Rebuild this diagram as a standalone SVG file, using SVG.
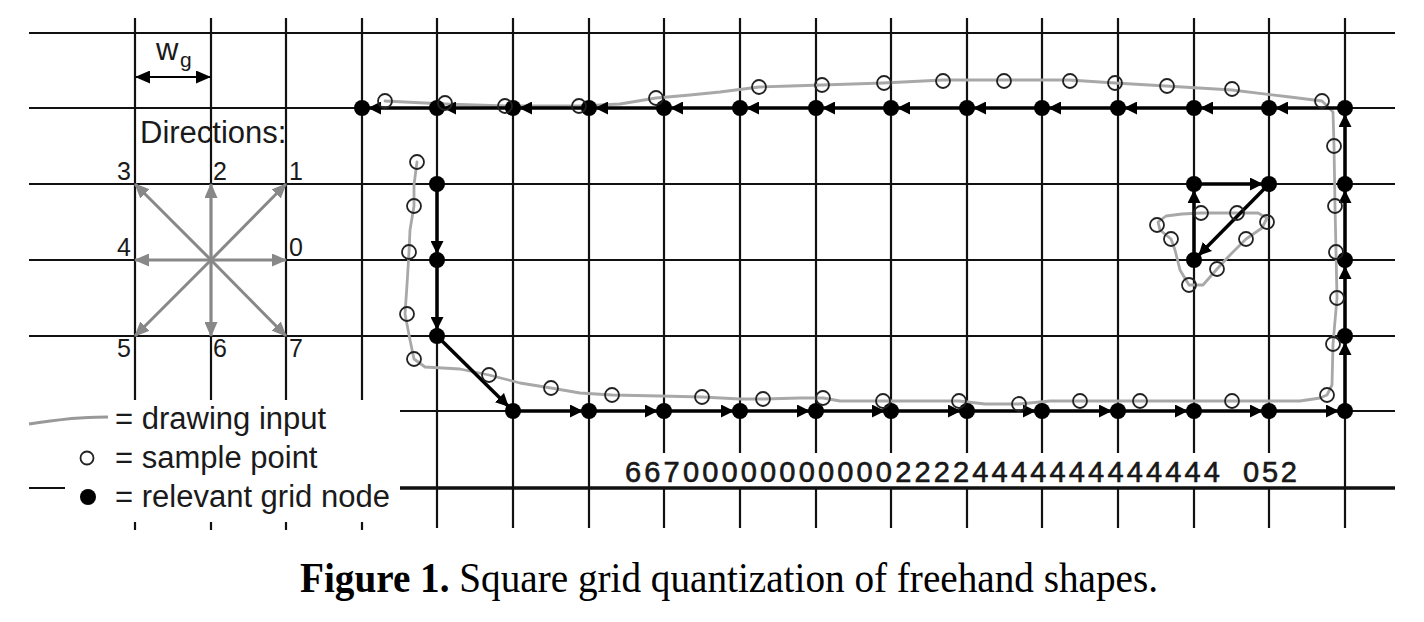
<svg xmlns="http://www.w3.org/2000/svg" width="1424" height="622" viewBox="0 0 1424 622">
<style>
.grid{stroke:#111;stroke-width:2.2;fill:none}
.gridb{stroke:#111;stroke-width:3.5;fill:none}
.seg{stroke:#000;stroke-width:3.5;fill:none;marker-end:url(#ah)}
.node{fill:#000}
.ink{stroke:#a8a8a8;stroke-width:2.8;fill:none;stroke-linejoin:round;stroke-linecap:round}
.samp{fill:none;stroke:#222;stroke-width:1.8}
.dir{stroke:#888;stroke-width:3;fill:none;marker-end:url(#ag)}
.lbl{font-family:"Liberation Sans",Arial,sans-serif;fill:#1a1a1a}
.cap{font-family:"Liberation Serif","Times New Roman",serif;fill:#000}
</style>
<defs>
<marker id="ah" markerUnits="userSpaceOnUse" markerWidth="13" markerHeight="13" refX="12" refY="6.5" orient="auto"><path d="M0,0 L13,6.5 L0,13 z" fill="#000"/></marker>
<marker id="ag" markerUnits="userSpaceOnUse" markerWidth="15" markerHeight="13" refX="14" refY="6.5" orient="auto"><path d="M0,0 L15,6.5 L0,13 z" fill="#888"/></marker>
<marker id="ak" markerUnits="userSpaceOnUse" markerWidth="15" markerHeight="13" refX="14" refY="6.5" orient="auto"><path d="M0,0 L15,6.5 L0,13 z" fill="#000"/></marker>
</defs>
<rect width="1424" height="622" fill="#fff"/>
<g id="grid">
<path class="grid" d="M29,33H1395M29,108H1395M29,184H1395M29,260H1395M29,336H1395M400,411H1395M29,488H65"/>
<path class="gridb" d="M400,488H1395"/>
<path class="grid" d="M135,18V400M211,18V400M286,18V400M362,18V400M135,522V530M211,522V530M286,522V530M362,522V530"/>
<path class="grid" d="M437,18V528M513,18V528M589,18V528M1345,18V528"/>
<path class="grid" d="M664,18V453M740,18V453M816,18V453M891,18V453M967,18V453M1042,18V453M1118,18V453M1194,18V453M1269,18V453"/>
<path class="grid" d="M664,487V528M740,487V528M816,487V528M891,487V528M967,487V528M1042,487V528M1118,487V528M1194,487V528M1269,487V528"/>
</g>
<g id="directions">
<line class="dir" x1="211" y1="260" x2="286" y2="260"/>
<line class="dir" x1="211" y1="260" x2="286" y2="184"/>
<line class="dir" x1="211" y1="260" x2="211" y2="184"/>
<line class="dir" x1="211" y1="260" x2="135" y2="184"/>
<line class="dir" x1="211" y1="260" x2="135" y2="260"/>
<line class="dir" x1="211" y1="260" x2="135" y2="336"/>
<line class="dir" x1="211" y1="260" x2="211" y2="336"/>
<line class="dir" x1="211" y1="260" x2="286" y2="336"/>
<text class="lbl" x="140" y="143" font-size="31">Directions:</text>
<text class="lbl" x="117" y="180" font-size="25">3</text>
<text class="lbl" x="213" y="180" font-size="25">2</text>
<text class="lbl" x="289" y="180" font-size="25">1</text>
<text class="lbl" x="117" y="256" font-size="25">4</text>
<text class="lbl" x="289" y="256" font-size="25">0</text>
<text class="lbl" x="117" y="357" font-size="25">5</text>
<text class="lbl" x="213" y="357" font-size="25">6</text>
<text class="lbl" x="289" y="357" font-size="25">7</text>
</g>
<g id="wg">
<line x1="173" y1="77" x2="136" y2="77" stroke="#000" stroke-width="2" marker-end="url(#ak)"/>
<line x1="173" y1="77" x2="210" y2="77" stroke="#000" stroke-width="2" marker-end="url(#ak)"/>
<text class="lbl" x="156" y="60" font-size="31">w</text>
<text class="lbl" x="180" y="67" font-size="21">g</text>
</g>
<g id="drawing-input">
<path class="ink" d="M417,162 L414,185 L414,206 L410,230 L409,252 L407,285 L405,314 L410,340 L414,359 L425,367 L460,369 L489,375 L520,383 L551,388 L580,393 L612,395 L660,396 L702,397 L740,399 L763,399 L800,398 L823,398 L840,401 L883,401 L920,401 L959,401 L985,404 L1019,404 L1050,401 L1080,401 L1140,401 L1190,401 L1232,401 L1300,401 L1320,398 L1327,395 L1332,385 L1333,344 L1337,298 L1336,252 L1335,206 L1334,146 L1333,112 L1322,101 L1290,97 L1232,90 L1166,86 L1115,83 L1069,80 L1004,80 L943,80 L883,83 L822,85 L790,86 L759,87 L720,92 L690,95 L656,98 L620,104 L580,106 L506,106 L445,104 L385,101"/>
<path class="ink" d="M1189,285 L1180,270 L1175,250 L1171,239 L1160,230 L1158,222 L1166,216 L1182,214 L1201,213 L1237,213 L1258,213 L1267,218 L1262,228 L1246,239 L1230,255 L1217,269 L1203,285 L1189,285"/>
</g>
<g id="connectors">
<line class="seg" x1="437" y1="108" x2="369" y2="108"/>
<line class="seg" x1="513" y1="108" x2="444" y2="108"/>
<line class="seg" x1="589" y1="108" x2="520" y2="108"/>
<line class="seg" x1="664" y1="108" x2="596" y2="108"/>
<line class="seg" x1="740" y1="108" x2="671" y2="108"/>
<line class="seg" x1="816" y1="108" x2="747" y2="108"/>
<line class="seg" x1="891" y1="108" x2="823" y2="108"/>
<line class="seg" x1="967" y1="108" x2="898" y2="108"/>
<line class="seg" x1="1042" y1="108" x2="974" y2="108"/>
<line class="seg" x1="1118" y1="108" x2="1049" y2="108"/>
<line class="seg" x1="1194" y1="108" x2="1125" y2="108"/>
<line class="seg" x1="1269" y1="108" x2="1201" y2="108"/>
<line class="seg" x1="1345" y1="108" x2="1276" y2="108"/>
<line class="seg" x1="1345" y1="411" x2="1345" y2="343"/>
<line class="seg" x1="1345" y1="336" x2="1345" y2="267"/>
<line class="seg" x1="1345" y1="260" x2="1345" y2="191"/>
<line class="seg" x1="1345" y1="184" x2="1345" y2="115"/>
<line class="seg" x1="513" y1="411" x2="582" y2="411"/>
<line class="seg" x1="589" y1="411" x2="657" y2="411"/>
<line class="seg" x1="664" y1="411" x2="733" y2="411"/>
<line class="seg" x1="740" y1="411" x2="809" y2="411"/>
<line class="seg" x1="816" y1="411" x2="884" y2="411"/>
<line class="seg" x1="891" y1="411" x2="960" y2="411"/>
<line class="seg" x1="967" y1="411" x2="1035" y2="411"/>
<line class="seg" x1="1042" y1="411" x2="1111" y2="411"/>
<line class="seg" x1="1118" y1="411" x2="1187" y2="411"/>
<line class="seg" x1="1194" y1="411" x2="1262" y2="411"/>
<line class="seg" x1="1269" y1="411" x2="1338" y2="411"/>
<line class="seg" x1="437" y1="184" x2="437" y2="253"/>
<line class="seg" x1="437" y1="260" x2="437" y2="329"/>
<line class="seg" x1="437" y1="336" x2="508" y2="406"/>
<line class="seg" x1="1194" y1="184" x2="1262" y2="184"/>
<line class="seg" x1="1269" y1="184" x2="1199" y2="255"/>
<line class="seg" x1="1194" y1="260" x2="1194" y2="191"/>
</g>
<g id="nodes">
<circle class="node" cx="437" cy="184" r="8"/><circle class="node" cx="437" cy="260" r="8"/><circle class="node" cx="437" cy="336" r="8"/>
<circle class="node" cx="513" cy="411" r="8"/><circle class="node" cx="589" cy="411" r="8"/><circle class="node" cx="664" cy="411" r="8"/><circle class="node" cx="740" cy="411" r="8"/><circle class="node" cx="816" cy="411" r="8"/><circle class="node" cx="891" cy="411" r="8"/><circle class="node" cx="967" cy="411" r="8"/><circle class="node" cx="1042" cy="411" r="8"/><circle class="node" cx="1118" cy="411" r="8"/><circle class="node" cx="1194" cy="411" r="8"/><circle class="node" cx="1269" cy="411" r="8"/><circle class="node" cx="1345" cy="411" r="8"/>
<circle class="node" cx="1345" cy="336" r="8"/><circle class="node" cx="1345" cy="260" r="8"/><circle class="node" cx="1345" cy="184" r="8"/><circle class="node" cx="1345" cy="108" r="8"/>
<circle class="node" cx="362" cy="108" r="8"/><circle class="node" cx="437" cy="108" r="8"/><circle class="node" cx="513" cy="108" r="8"/><circle class="node" cx="589" cy="108" r="8"/><circle class="node" cx="664" cy="108" r="8"/><circle class="node" cx="740" cy="108" r="8"/><circle class="node" cx="816" cy="108" r="8"/><circle class="node" cx="891" cy="108" r="8"/><circle class="node" cx="967" cy="108" r="8"/><circle class="node" cx="1042" cy="108" r="8"/><circle class="node" cx="1118" cy="108" r="8"/><circle class="node" cx="1194" cy="108" r="8"/><circle class="node" cx="1269" cy="108" r="8"/>
<circle class="node" cx="1194" cy="184" r="8"/><circle class="node" cx="1269" cy="184" r="8"/><circle class="node" cx="1194" cy="260" r="8"/>
</g>
<g id="samples">
<circle class="samp" cx="417" cy="162" r="7"/><circle class="samp" cx="414" cy="206" r="7"/><circle class="samp" cx="409" cy="252" r="7"/><circle class="samp" cx="407" cy="314" r="7"/><circle class="samp" cx="414" cy="359" r="7"/>
<circle class="samp" cx="489" cy="375" r="7"/><circle class="samp" cx="551" cy="388" r="7"/><circle class="samp" cx="612" cy="395" r="7"/><circle class="samp" cx="702" cy="397" r="7"/><circle class="samp" cx="763" cy="399" r="7"/><circle class="samp" cx="823" cy="398" r="7"/><circle class="samp" cx="883" cy="401" r="7"/><circle class="samp" cx="959" cy="401" r="7"/><circle class="samp" cx="1019" cy="404" r="7"/><circle class="samp" cx="1080" cy="401" r="7"/><circle class="samp" cx="1140" cy="401" r="7"/><circle class="samp" cx="1232" cy="401" r="7"/><circle class="samp" cx="1327" cy="395" r="7"/>
<circle class="samp" cx="1333" cy="344" r="7"/><circle class="samp" cx="1337" cy="298" r="7"/><circle class="samp" cx="1336" cy="252" r="7"/><circle class="samp" cx="1335" cy="206" r="7"/><circle class="samp" cx="1334" cy="146" r="7"/><circle class="samp" cx="1322" cy="101" r="7"/>
<circle class="samp" cx="1232" cy="89" r="7"/><circle class="samp" cx="1167" cy="86" r="7"/><circle class="samp" cx="1115" cy="83" r="7"/><circle class="samp" cx="1070" cy="81" r="7"/><circle class="samp" cx="1004" cy="81" r="7"/><circle class="samp" cx="943" cy="81" r="7"/><circle class="samp" cx="884" cy="83" r="7"/><circle class="samp" cx="822" cy="85" r="7"/><circle class="samp" cx="759" cy="87" r="7"/><circle class="samp" cx="656" cy="98" r="7"/><circle class="samp" cx="579" cy="106" r="7"/><circle class="samp" cx="505" cy="106" r="7"/><circle class="samp" cx="445" cy="103" r="7"/><circle class="samp" cx="385" cy="101" r="7"/>
<circle class="samp" cx="1201" cy="213" r="7"/><circle class="samp" cx="1237" cy="213" r="7"/><circle class="samp" cx="1267" cy="222" r="7"/><circle class="samp" cx="1157" cy="225" r="7"/><circle class="samp" cx="1171" cy="239" r="7"/><circle class="samp" cx="1246" cy="239" r="7"/><circle class="samp" cx="1217" cy="269" r="7"/><circle class="samp" cx="1189" cy="285" r="7"/>
</g>
<g id="chain-code">
<text class="lbl" x="625" y="482" font-size="29" textLength="595" lengthAdjust="spacing" fill="#111" stroke="#111" stroke-width="0.6">6670000000000022224444444444444</text>
<text class="lbl" x="1243" y="482" font-size="29" textLength="54" lengthAdjust="spacing" fill="#111" stroke="#111" stroke-width="0.6">052</text>
</g>
<g id="legend">
<path d="M29,424 C50,421 62,419 80,418 S100,417 108,417" stroke="#999" stroke-width="3" fill="none"/>
<text class="lbl" x="115" y="429" font-size="31">= drawing input</text>
<circle class="samp" cx="87" cy="458" r="6.5"/>
<text class="lbl" x="115" y="468" font-size="31">= sample point</text>
<circle class="node" cx="88" cy="497" r="8"/>
<text class="lbl" x="115" y="507" font-size="31">= relevant grid node</text>
</g>
<g id="caption">
<text class="cap" x="300" y="592" font-size="42" textLength="858" lengthAdjust="spacingAndGlyphs"><tspan font-weight="bold">Figure 1.</tspan> Square grid quantization of freehand shapes.</text>
</g>
</svg>
